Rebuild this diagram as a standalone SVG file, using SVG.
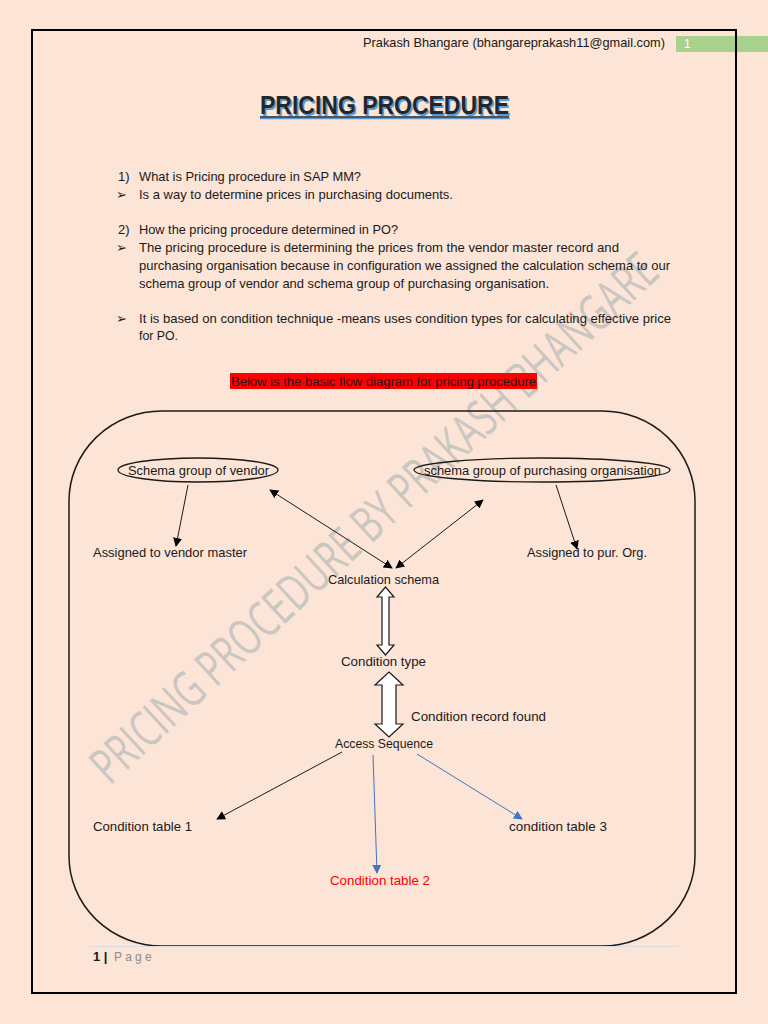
<svg xmlns="http://www.w3.org/2000/svg" width="768" height="1024" viewBox="0 0 768 1024">
<style>
.t{font-family:"Liberation Sans",Arial,sans-serif;font-size:13px;fill:#1a1a1a}
.b{font-family:"DejaVu Sans",sans-serif;font-size:13px;fill:#1a1a1a}
.ln{stroke:#1a1a1a;stroke-width:1;fill:none}
.bl{stroke:#4472c4;stroke-width:1;fill:none}
.ha{fill:#fff;stroke:#1a1a1a;stroke-width:1.2}
</style>
<defs>
<marker id="ah" viewBox="0 0 10 10" refX="9" refY="5" markerWidth="9" markerHeight="9" markerUnits="userSpaceOnUse" orient="auto-start-reverse"><path d="M0,0 L10,5 L0,10 z" fill="#000"/></marker>
<marker id="ahb" viewBox="0 0 10 10" refX="9" refY="5" markerWidth="9" markerHeight="9" markerUnits="userSpaceOnUse" orient="auto"><path d="M0,0 L10,5 L0,10 z" fill="#4472c4"/></marker>
</defs>
<rect x="0" y="0" width="768" height="1024" fill="#fce4d6"/>
<text x="110" y="786" transform="rotate(-42.8 110 786)" font-family="'Open Sans','Liberation Sans',sans-serif" font-size="50" fill="#cac6c2" textLength="752" lengthAdjust="spacingAndGlyphs">PRICING PROCEDURE BY PRAKASH BHANGARE</text>
<g id="page-frame">
<rect x="676" y="36" width="92" height="16" fill="#a9d18e"/>
<text x="684" y="48" font-family="'Liberation Sans',Arial,sans-serif" font-size="12" fill="#fff">1</text>
<rect x="32" y="30" width="704" height="963" fill="none" stroke="#000" stroke-width="2"/>
<text class="t" x="363" y="47" textLength="302" lengthAdjust="spacingAndGlyphs">Prakash Bhangare (bhangareprakash11@gmail.com)</text>
</g>
<g id="title">
<text x="261.5" y="115.5" font-family="'Liberation Sans',Arial,sans-serif" font-size="25" font-weight="bold" fill="#5b9bd5" textLength="249" lengthAdjust="spacingAndGlyphs">PRICING PROCEDURE</text>
<text x="260" y="114" font-family="'Liberation Sans',Arial,sans-serif" font-size="25" font-weight="bold" fill="#262626" textLength="249" lengthAdjust="spacingAndGlyphs">PRICING PROCEDURE</text>
<line x1="260" y1="118.5" x2="510" y2="118.5" stroke="#5b9bd5" stroke-width="1.5"/>
<line x1="260" y1="117" x2="509" y2="117" stroke="#262626" stroke-width="1.5"/>
</g>
<g id="body-text">
<text class="t" x="118" y="181">1)</text>
<text class="t" x="139" y="181" textLength="222" lengthAdjust="spacingAndGlyphs">What is Pricing procedure in SAP MM?</text>
<text class="b" x="116" y="199">➢</text>
<text class="t" x="139" y="199" textLength="314" lengthAdjust="spacingAndGlyphs">Is a way to determine prices in purchasing documents.</text>
<text class="t" x="118" y="234">2)</text>
<text class="t" x="139" y="234" textLength="259" lengthAdjust="spacingAndGlyphs">How the pricing procedure determined in PO?</text>
<text class="b" x="116" y="252">➢</text>
<text class="t" x="139" y="252" textLength="480" lengthAdjust="spacingAndGlyphs">The pricing procedure is determining the prices from the vendor master record and</text>
<text class="t" x="139" y="270" textLength="531" lengthAdjust="spacingAndGlyphs">purchasing organisation because in configuration we assigned the calculation schema to our</text>
<text class="t" x="139" y="288" textLength="410" lengthAdjust="spacingAndGlyphs">schema group of vendor and schema group of purchasing organisation.</text>
<text class="b" x="116" y="323">➢</text>
<text class="t" x="139" y="323" textLength="532" lengthAdjust="spacingAndGlyphs">It is based on condition technique -means uses condition types for calculating effective price</text>
<text class="t" x="139" y="340" textLength="39" lengthAdjust="spacingAndGlyphs">for PO.</text>
<rect x="230" y="373" width="307" height="16" fill="#ff0000"/>
<text class="t" x="231" y="386" textLength="305" lengthAdjust="spacingAndGlyphs">Below is the basic flow diagram for pricing procedure</text>
</g>
<g id="diagram-frame">
<rect x="69" y="411" width="626" height="535" rx="93" ry="90" fill="none" stroke="#1a1a1a" stroke-width="1.5"/>
</g>
<g id="connectors">
<line class="ln" x1="188" y1="485" x2="176" y2="546" marker-end="url(#ah)"/>
<line class="ln" x1="270" y1="490" x2="392" y2="568" marker-start="url(#ah)" marker-end="url(#ah)"/>
<line class="ln" x1="483" y1="500" x2="396" y2="568" marker-start="url(#ah)" marker-end="url(#ah)"/>
<line class="ln" x1="556" y1="485" x2="577" y2="549" marker-end="url(#ah)"/>
<polygon class="ha" points="385.5,587 394,597 389,597 389,645 394,645 385.5,655 377,645 382,645 382,597 377,597"/>
<polygon class="ha" points="389,672 403,685 396,685 396,724 403,724 389,737 375,724 382,724 382,685 375,685"/>
<line class="ln" x1="342" y1="752" x2="217" y2="819" marker-end="url(#ah)"/>
<line class="bl" x1="373" y1="755" x2="377" y2="873" marker-end="url(#ahb)"/>
<line class="bl" x1="417" y1="754" x2="522" y2="819" marker-end="url(#ahb)"/>
</g>
<g id="schema-group-vendor">
<ellipse cx="198" cy="470" rx="80" ry="12" fill="none" stroke="#1a1a1a" stroke-width="1.3"/>
<text class="t" x="128" y="475" textLength="141" lengthAdjust="spacingAndGlyphs">Schema group of vendor</text>
</g>
<g id="schema-group-purchasing-org">
<ellipse cx="542" cy="470" rx="128" ry="12" fill="none" stroke="#1a1a1a" stroke-width="1.3"/>
<text class="t" x="424" y="475" textLength="237" lengthAdjust="spacingAndGlyphs">schema group of purchasing organisation</text>
</g>
<g id="assigned-vendor-master"><text class="t" x="93" y="557" textLength="154" lengthAdjust="spacingAndGlyphs">Assigned to vendor master</text></g>
<g id="assigned-pur-org"><text class="t" x="527" y="557" textLength="120" lengthAdjust="spacingAndGlyphs">Assigned to pur. Org.</text></g>
<g id="calculation-schema"><text class="t" x="328" y="584" textLength="111" lengthAdjust="spacingAndGlyphs">Calculation schema</text></g>
<g id="condition-type"><text class="t" x="341" y="666" textLength="85" lengthAdjust="spacingAndGlyphs">Condition type</text></g>
<g id="condition-record-found"><text class="t" x="411" y="721" textLength="135" lengthAdjust="spacingAndGlyphs">Condition record found</text></g>
<g id="access-sequence"><text class="t" x="335" y="748" textLength="98" lengthAdjust="spacingAndGlyphs">Access Sequence</text></g>
<g id="condition-table-1"><text class="t" x="93" y="831" textLength="99" lengthAdjust="spacingAndGlyphs">Condition table 1</text></g>
<g id="condition-table-3"><text class="t" x="509" y="831" textLength="98" lengthAdjust="spacingAndGlyphs">condition table 3</text></g>
<g id="condition-table-2"><text class="t" x="330" y="885" textLength="100" lengthAdjust="spacingAndGlyphs" style="fill:#ff0000">Condition table 2</text></g>
<g id="footer">
<line x1="89" y1="946.5" x2="678" y2="946.5" stroke="#d6dce4" stroke-width="1"/>
<text x="93" y="961" font-family="'Liberation Sans',Arial,sans-serif" font-size="13" font-weight="bold" fill="#1a1a1a">1 |</text>
<text x="114" y="961" font-family="'Liberation Sans',Arial,sans-serif" font-size="12" fill="#8c8c8c" letter-spacing="3.2">Page</text>
</g>
</svg>
